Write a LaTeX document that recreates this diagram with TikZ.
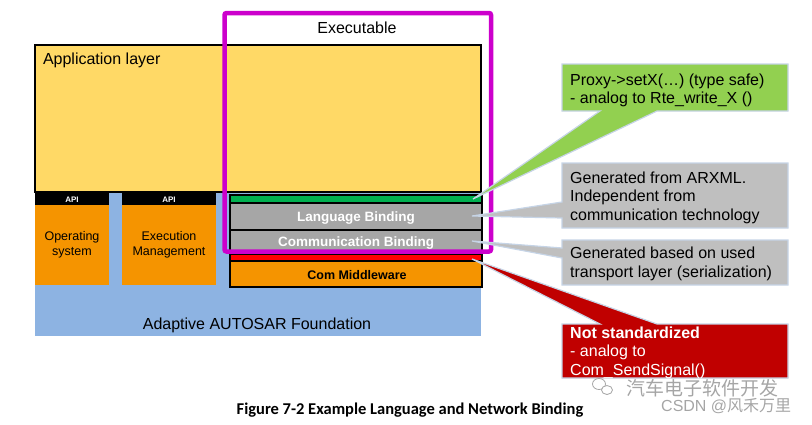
\documentclass[tikz,border=0pt]{standalone}
\usepackage{fontspec}
\setmainfont{Liberation Sans}
\newfontfamily\capfont{Carlito}
\newfontfamily\cjk{Noto Sans CJK SC}
\usepackage{tikz}
\definecolor{applayer}{RGB}{255,217,102}
\definecolor{fndblue}{RGB}{141,179,226}
\definecolor{mworange}{RGB}{245,148,0}
\definecolor{bindgrey}{RGB}{166,166,166}
\definecolor{exemagenta}{RGB}{204,0,204}
\definecolor{bargreen}{RGB}{0,176,80}
\definecolor{callgreen}{RGB}{146,208,80}
\definecolor{callgrey}{RGB}{191,191,191}
\definecolor{callred}{RGB}{192,0,0}
\definecolor{callrim}{RGB}{198,212,230}
\definecolor{wmgrey}{RGB}{165,165,165}
\tikzset{%
    block/.style={draw=black, line width=2.5pt},
    callout/.style={draw=callrim, line width=1.2pt, line join=miter},
    calltext/.style={anchor=west, inner sep=0pt, align=left,
        font=\fontsize{16}{18.5}\selectfont},
    bindtext/.style={text=white, font=\fontsize{13.5}{16}\bfseries\selectfont},
    apitext/.style={text=white, font=\fontsize{8}{9}\bfseries\selectfont}
}
\begin{document}
\begin{tikzpicture}[x=1pt,y=-1pt]
    \useasboundingbox (0,0) rectangle (812,424);
    % foundation and application layer
    \fill[fndblue] (35,192) rectangle (481,336);
    \draw[block, fill=applayer] (35,45) rectangle (481,192);
    \node[anchor=west, font=\fontsize{16}{19}\selectfont] (app) at (39.5,60) {Application layer};
    \node[font=\fontsize{16}{19}\selectfont] (fnd) at (257,325.5) {Adaptive AUTOSAR Foundation};
    % APIs, OS and EM
    \fill[black] (35,193) rectangle (109,205);
    \fill[black] (122,193) rectangle (216,205);
    \node[apitext] (api1) at (72,199.5) {API};
    \node[apitext] (api2) at (169,199.5) {API};
    \fill[mworange] (35,205) rectangle (109,285);
    \fill[mworange] (122,205) rectangle (216,285);
    \node[align=center, font=\fontsize{12.5}{15}\selectfont] (os) at (72,245) {Operating\\system};
    \node[align=center, font=\fontsize{12.5}{15}\selectfont] (em) at (169,245) {Execution\\Management};
    % binding stack
    \draw[block, fill=bargreen] (230,195) rectangle (482,203);
    \draw[block, fill=bindgrey] (230,203) rectangle (482,230);
    \draw[block, fill=bindgrey] (230,230) rectangle (482,254);
    \draw[block, fill=red] (230,254) rectangle (482,261);
    \draw[block, fill=mworange] (230,261) rectangle (482,287);
    \node[bindtext] (lang) at (356,218) {Language Binding};
    \node[bindtext] (comm) at (356,243) {Communication Binding};
    \node[font=\fontsize{12.5}{15}\bfseries\selectfont] (mw) at (357,275) {Com Middleware};
    % executable frame
    \draw[exemagenta, line width=4.5pt, rounded corners=2pt] (224.5,13) rectangle (491,251.5);
    \node[font=\fontsize{16}{19}\selectfont] (exe) at (357,27.5) {Executable};
    % callouts
    \coordinate (tipg) at (473,199);
    \coordinate (tipl) at (472,216);
    \coordinate (tipc) at (472,241);
    \coordinate (tipm) at (472,259);
    \filldraw[callout, fill=callgreen] (562,64) -- (788,64) -- (788,111) -- (657,111)
        -- (tipg) -- (600,111) -- (562,111) -- cycle;
    \filldraw[callout, fill=callgrey] (562,163) -- (788,163) -- (788,228) -- (562,228)
        -- (562,218) -- (tipl) -- (562,202) -- cycle;
    \filldraw[callout, fill=callgrey] (562,240) -- (788,240) -- (788,285) -- (562,285)
        -- (562,258) -- (tipc) -- (562,248) -- cycle;
    \filldraw[callout, fill=callred] (562,324) -- (600,324) -- (tipm) -- (657,324)
        -- (788,324) -- (788,378) -- (562,378) -- cycle;
    \node[calltext] (proxy) at (570,90.5) {Proxy->setX(…) (type safe)\\- analog to Rte\_write\_X ()};
    \node[calltext] (arxml) at (570,197.5) {Generated from ARXML.\\Independent from\\communication technology};
    \node[calltext] (serial) at (570,264) {Generated based on used\\transport layer (serialization)};
    \node[calltext, text=white] (nostd) at (570,352.5) {\textbf{Not standardized}\\- analog to\\Com\_SendSignal()};
    % watermark
    \draw[wmgrey, line width=0.8pt] (599,384) ellipse (6.5pt and 5.5pt);
    \draw[wmgrey, line width=0.8pt, fill=white] (607,390) ellipse (5.5pt and 4.5pt);
    \node[text=wmgrey, anchor=west, inner sep=0pt, font=\cjk\fontsize{19}{22}\selectfont] (wm) at (626,388) {汽车电子软件开发};
    \node[text=wmgrey, anchor=west, inner sep=0pt, font=\fontsize{16}{19}\selectfont] (csdn) at (661,406) {CSDN @{\cjk 风禾万里}};
    % caption
    \node[font=\capfont\fontsize{16.5}{19}\bfseries\selectfont] (cap) at (410,410) {Figure 7-2 Example Language and Network Binding};
\end{tikzpicture}
\end{document}
